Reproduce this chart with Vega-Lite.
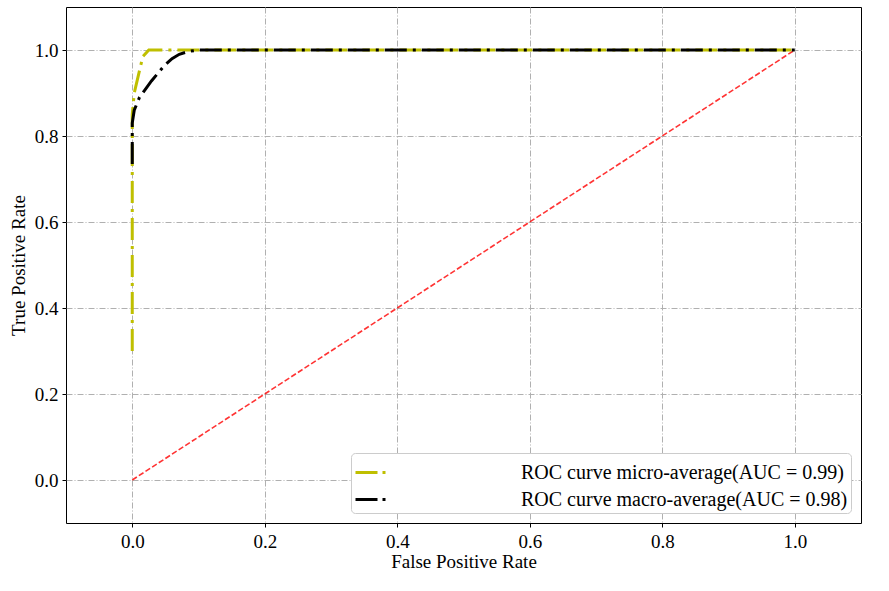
{
  "$schema": "https://vega.github.io/schema/vega-lite/v6.json",
  "width": 795,
  "height": 516,
  "autosize": {"type": "none"},
  "padding": {"left": 66, "top": 7, "right": 28, "bottom": 68},
  "background": "white",
  "config": {
    "view": {"stroke": "black", "strokeWidth": 1},
    "font": "Liberation Serif",
    "axis": {
      "labelFont": "Liberation Serif",
      "titleFont": "Liberation Serif",
      "labelFontSize": 19,
      "titleFontSize": 19,
      "titleFontWeight": "normal",
      "labelColor": "black",
      "titleColor": "black",
      "domain": false,
      "tickColor": "black",
      "tickSize": 4,
      "labelPadding": 4,
      "grid": true,
      "gridColor": "#b0b0b0",
      "gridDash": [6, 2, 1, 2],
      "gridWidth": 1
    }
  },
  "datasets": {
    "curves": [
      {"fpr": 0, "tpr": 0.3, "series": "ROC curve micro-average(AUC = 0.99)"},
      {"fpr": 0, "tpr": 0.85, "series": "ROC curve micro-average(AUC = 0.99)"},
      {"fpr": 0.003, "tpr": 0.9, "series": "ROC curve micro-average(AUC = 0.99)"},
      {"fpr": 0.016, "tpr": 0.985, "series": "ROC curve micro-average(AUC = 0.99)"},
      {"fpr": 0.025, "tpr": 1.0, "series": "ROC curve micro-average(AUC = 0.99)"},
      {"fpr": 1.0, "tpr": 1.0, "series": "ROC curve micro-average(AUC = 0.99)"},
      {"fpr": 0, "tpr": 0.735, "series": "ROC curve macro-average(AUC = 0.98)"},
      {"fpr": 0, "tpr": 0.83, "series": "ROC curve macro-average(AUC = 0.98)"},
      {"fpr": 0.003, "tpr": 0.86, "series": "ROC curve macro-average(AUC = 0.98)"},
      {"fpr": 0.011, "tpr": 0.89, "series": "ROC curve macro-average(AUC = 0.98)"},
      {"fpr": 0.029, "tpr": 0.928, "series": "ROC curve macro-average(AUC = 0.98)"},
      {"fpr": 0.048, "tpr": 0.963, "series": "ROC curve macro-average(AUC = 0.98)"},
      {"fpr": 0.06, "tpr": 0.98, "series": "ROC curve macro-average(AUC = 0.98)"},
      {"fpr": 0.071, "tpr": 0.99, "series": "ROC curve macro-average(AUC = 0.98)"},
      {"fpr": 0.086, "tpr": 0.997, "series": "ROC curve macro-average(AUC = 0.98)"},
      {"fpr": 0.1, "tpr": 1.0, "series": "ROC curve macro-average(AUC = 0.98)"},
      {"fpr": 1.0, "tpr": 1.0, "series": "ROC curve macro-average(AUC = 0.98)"}
    ],
    "diag": [
      {"fpr": 0, "tpr": 0},
      {"fpr": 1, "tpr": 1}
    ]
  },
  "layer": [
    {
      "data": {"name": "diag"},
      "mark": {"type": "line", "color": "#ff0000", "opacity": 0.8, "strokeWidth": 1.6, "strokeDash": [5.5, 2.4]},
      "encoding": {
        "x": {"field": "fpr", "type": "quantitative", "scale": {"domain": [-0.1, 1.1], "nice": false, "zero": false},
              "axis": {"values": [0, 0.2, 0.4, 0.6, 0.8, 1.0], "format": ".1f", "title": "False Positive Rate", "labelPadding": 5, "titlePadding": 1}},
        "y": {"field": "tpr", "type": "quantitative", "scale": {"domain": [-0.1, 1.1], "nice": false, "zero": false},
              "axis": {"values": [0, 0.2, 0.4, 0.6, 0.8, 1.0], "format": ".1f", "title": "True Positive Rate", "titlePadding": 6}}
      }
    },
    {
      "data": {"name": "curves"},
      "mark": {"type": "line", "strokeWidth": 3, "strokeDash": [22, 6, 3, 6], "strokeCap": "butt"},
      "encoding": {
        "x": {"field": "fpr", "type": "quantitative"},
        "y": {"field": "tpr", "type": "quantitative"},
        "order": {"field": "fpr", "type": "quantitative"},
        "color": {
          "field": "series", "type": "nominal",
          "scale": {"domain": ["ROC curve micro-average(AUC = 0.99)", "ROC curve macro-average(AUC = 0.98)"], "range": ["#bfbf00", "#000000"]},
          "legend": {
            "title": null,
            "orient": "bottom-right",
            "offset": 10,
            "fillColor": "white",
            "strokeColor": "#cccccc",
            "cornerRadius": 4,
            "padding": 3,
            "symbolType": "stroke",
            "symbolSize": 900,
            "symbolStrokeWidth": 3,
            "symbolDash": [22, 5, 3, 5],
            "labelFont": "Liberation Serif",
            "labelFontSize": 20,
            "labelColor": "black",
            "labelOffset": 134,
            "labelLimit": 600,
            "rowPadding": -3
          }
        }
      }
    }
  ]
}
